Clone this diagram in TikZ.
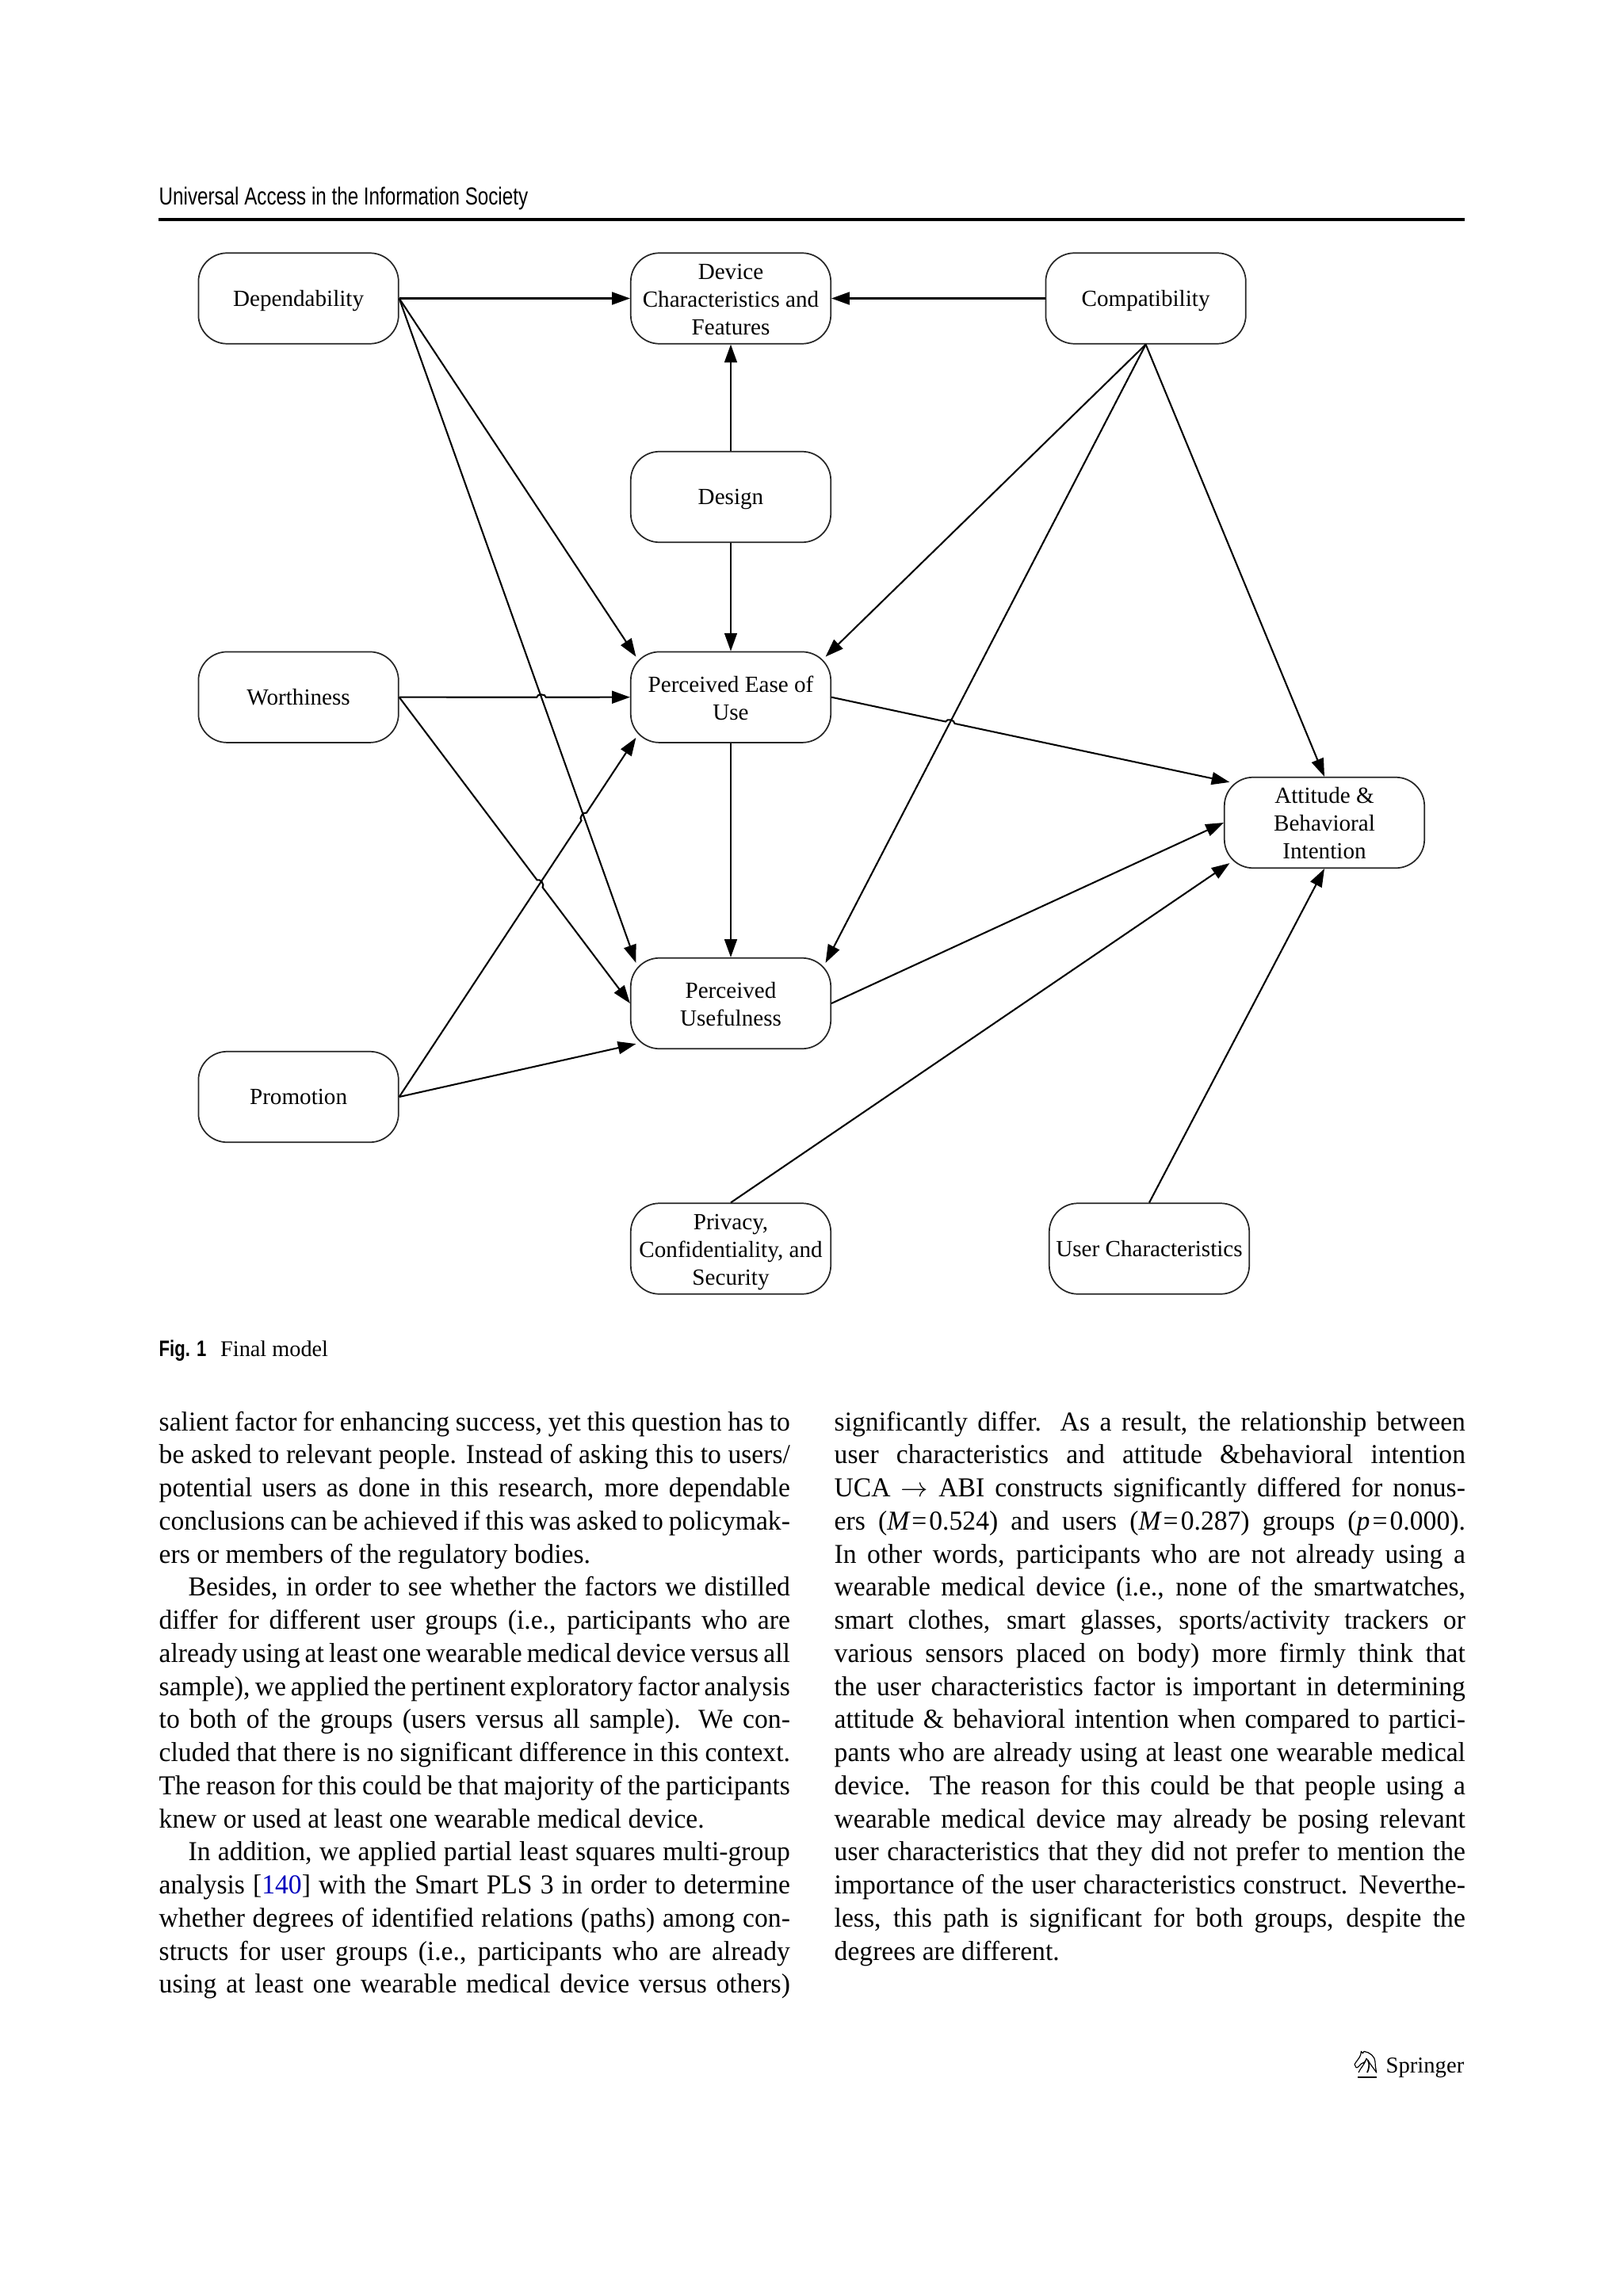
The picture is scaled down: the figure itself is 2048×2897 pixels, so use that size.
\documentclass[tikz,border=0pt]{standalone}
\usepackage{fontspec}
\usetikzlibrary{calc,arrows.meta}
\setmainfont{Liberation Serif}
\newfontfamily\hdrfont[FakeStretch=0.78]{Liberation Sans}
\newfontfamily\bodyfont[FakeStretch=0.975]{Liberation Serif}
\newdimen\colw
\colw=230.9pt
\newcommand{\jl}[1]{\hbox to \colw{#1}}
\newcommand{\el}[1]{\hbox to \colw{#1\hfil}}
\newcommand{\pin}{\hspace*{10.7pt}}
\newcommand{\eqv}[2]{{\itshape #1}\kern0.9pt=\kern0.9pt#2}
\newcommand{\topline}{\rule{0pt}{8.1pt}}
\newcommand{\lastline}{\rule[-2.5pt]{0pt}{2.5pt}}
\newcommand{\firstline}{\rule{0pt}{8.8pt}}
\definecolor{linkblue}{RGB}{0,0,190}
\tikzset{
  box/.style={draw=black!85,line width=0.5pt,rounded corners=10.5pt,minimum width=73.2pt,minimum height=33.2pt,inner sep=0pt,align=center,font=\fontsize{8.45}{10.15}\selectfont},
  conn/.style={draw=black,line width=0.6pt,-{Triangle[length=6.6pt,width=4.6pt]}},
  pagetext/.style={inner sep=0pt,anchor=base west}
}
\newcommand{\jumpedge}[4]{%
  \coordinate (jx) at (intersection cs:first line={(#1)--(#2)},second line={(#3)--(#4)});
  \coordinate (ja) at ($(jx)!1.7pt!(#1)$);
  \coordinate (jb) at ($(jx)!1.7pt!(#2)$);
  \draw[conn] (#1) -- (ja) to[bend left=80] (jb) -- (#2);
}
\begin{document}
\begin{tikzpicture}[x=0.29pt,y=-0.29pt]
\useasboundingbox (0,0) rectangle (2048,2897);
% running head
\node[pagetext,font=\hdrfont\fontsize{9}{11}\selectfont] (head) at (200,259) {Universal Access in the Information Society};
\coordinate (ruleL) at (200,277);
\coordinate (ruleR) at (1848,277);
\draw[line width=1pt] (ruleL) -- (ruleR);
% boxes
\node[box] (dep) at (376.6,376.5) {\topline Dependability\lastline};
\node[box] (dev) at (922,376.5) {\firstline Device\\Characteristics and\\Features\lastline};
\node[box] (com) at (1445.6,376.5) {\topline Compatibility\lastline};
\node[box] (des) at (922,627) {\topline Design\lastline};
\node[box] (wor) at (376.6,879.7) {\topline Worthiness\lastline};
\node[box] (pe) at (922,879.7) {\firstline Perceived Ease of\\Use\lastline};
\node[box] (att) at (1671,1038) {\firstline Attitude \&\\Behavioral\\Intention\lastline};
\node[box] (pu) at (922,1266) {\firstline Perceived\\Usefulness\lastline};
\node[box] (pro) at (376.6,1384) {\topline Promotion\lastline};
\node[box] (pri) at (922,1575.5) {\firstline Privacy,\\Confidentiality, and\\Security\lastline};
\node[box] (use) at (1450,1575.5) {\topline User Characteristics\lastline};
% corner contact points
\coordinate (peNW) at ($(pe.north west)+(7.5,7)$);
\coordinate (peNE) at ($(pe.north east)+(-7.5,7)$);
\coordinate (peSW) at ($(pe.south west)+(7.5,-7)$);
\coordinate (puNW) at ($(pu.north west)+(7.5,7)$);
\coordinate (puNE) at ($(pu.north east)+(-7.5,7)$);
\coordinate (puSW) at ($(pu.south west)+(7.5,-7)$);
\coordinate (attNW) at ($(att.north west)+(7.5,7)$);
\coordinate (attSW) at ($(att.south west)+(7.5,-7)$);
% connectors
\draw[conn] (dep.east) -- (dev.west);
\draw[conn] (com.west) -- (dev.east);
\draw[conn] (des.north) -- (dev.south);
\draw[conn] (des.south) -- (pe.north);
\draw[conn] (dep.east) -- (peNW);
\draw[conn] (dep.east) -- (puNW);
\draw[conn] (com.south) -- (peNE);
\draw[conn] (com.south) -- (puNE);
\draw[conn] (com.south) -- (att.north);
\draw[conn] (pe.south) -- (pu.north);
\draw[conn] (pu.east) -- (att.west);
\draw[conn] (pri.north) -- (attSW);
\draw[conn] (use.north) -- (att.south);
\draw[conn] (pro.east) -- (puSW);
\jumpedge{wor.east}{pe.west}{dep.east}{puNW}
\jumpedge{pro.east}{peSW}{dep.east}{puNW}
\jumpedge{wor.east}{pu.west}{pro.east}{peSW}
\jumpedge{pe.east}{attNW}{com.south}{puNE}
% caption
\node[pagetext,font=\hdrfont\bfseries\fontsize{8.2}{10}\selectfont] (figlab) at (200,1711) {Fig. 1};
\node[pagetext,font=\fontsize{8.2}{10}\selectfont] (figcap) at (277.5,1711) {Final model};
% body text
\node[pagetext,font=\bodyfont\fontsize{10}{12.11}\selectfont] (leftcol) at (200,1805) {\vtop{%
\jl{salient factor for enhancing success, yet this question has to}
\jl{be asked to relevant people. Instead of asking this to users/}
\jl{potential users as done in this research, more dependable}
\jl{conclusions can be achieved if this was asked to policymak-}
\el{ers or members of the regulatory bodies.}
\jl{\pin Besides, in order to see whether the factors we distilled}
\jl{differ for different user groups (i.e., participants who are}
\jl{already using at least one wearable medical device versus all}
\jl{sample), we applied the pertinent exploratory factor analysis}
\jl{to both of the groups (users versus all sample). We con-}
\jl{cluded that there is no significant difference in this context.}
\jl{The reason for this could be that majority of the participants}
\el{knew or used at least one wearable medical device.}
\jl{\pin In addition, we applied partial least squares multi-group}
\jl{analysis [\textcolor{linkblue}{140}] with the Smart PLS 3 in order to determine}
\jl{whether degrees of identified relations (paths) among con-}
\jl{structs for user groups (i.e., participants who are already}
\jl{using at least one wearable medical device versus others)}
}};
\node[pagetext,font=\bodyfont\fontsize{10}{12.11}\selectfont] (rightcol) at (1052,1805) {\vtop{%
\jl{significantly differ. As a result, the relationship between}
\jl{user characteristics and attitude \&behavioral intention}
\jl{UCA $\rightarrow$ ABI constructs significantly differed for nonus-}
\jl{ers (\eqv{M}{0.524}) and users (\eqv{M}{0.287}) groups (\eqv{p}{0.000}).}
\jl{In other words, participants who are not already using a}
\jl{wearable medical device (i.e., none of the smartwatches,}
\jl{smart clothes, smart glasses, sports/activity trackers or}
\jl{various sensors placed on body) more firmly think that}
\jl{the user characteristics factor is important in determining}
\jl{attitude \& behavioral intention when compared to partici-}
\jl{pants who are already using at least one wearable medical}
\jl{device. The reason for this could be that people using a}
\jl{wearable medical device may already be posing relevant}
\jl{user characteristics that they did not prefer to mention the}
\jl{importance of the user characteristics construct. Neverthe-}
\jl{less, this path is significant for both groups, despite the}
\el{degrees are different.}
}};
% publisher mark
\node[pagetext,font=\fontsize{8.3}{10}\selectfont] (springer) at (1748,2615) {Springer};
\begin{scope}[shift={(1640,2560)},x=0.0967pt,y=-0.0967pt,line width=0.35pt,line join=round]
\draw (222,165) .. controls (228,150) and (245,135) .. (252,112) (252,112) .. controls (248,125) and (240,130) .. (232,132)
  .. controls (225,140) and (218,148) .. (213,146) -- (207,134) .. controls (215,120) and (225,112) .. (230,98) -- (232,85) -- (238,92) -- (243,85)
  .. controls (265,88) and (285,105) .. (285,125) .. controls (285,140) and (288,155) .. (290,165) -- cycle;
\draw[line width=0.5pt] (257,118) .. controls (265,130) and (262,150) .. (255,165);
\fill (219,179) rectangle (290,187);
\end{scope}
\end{tikzpicture}
\end{document}
